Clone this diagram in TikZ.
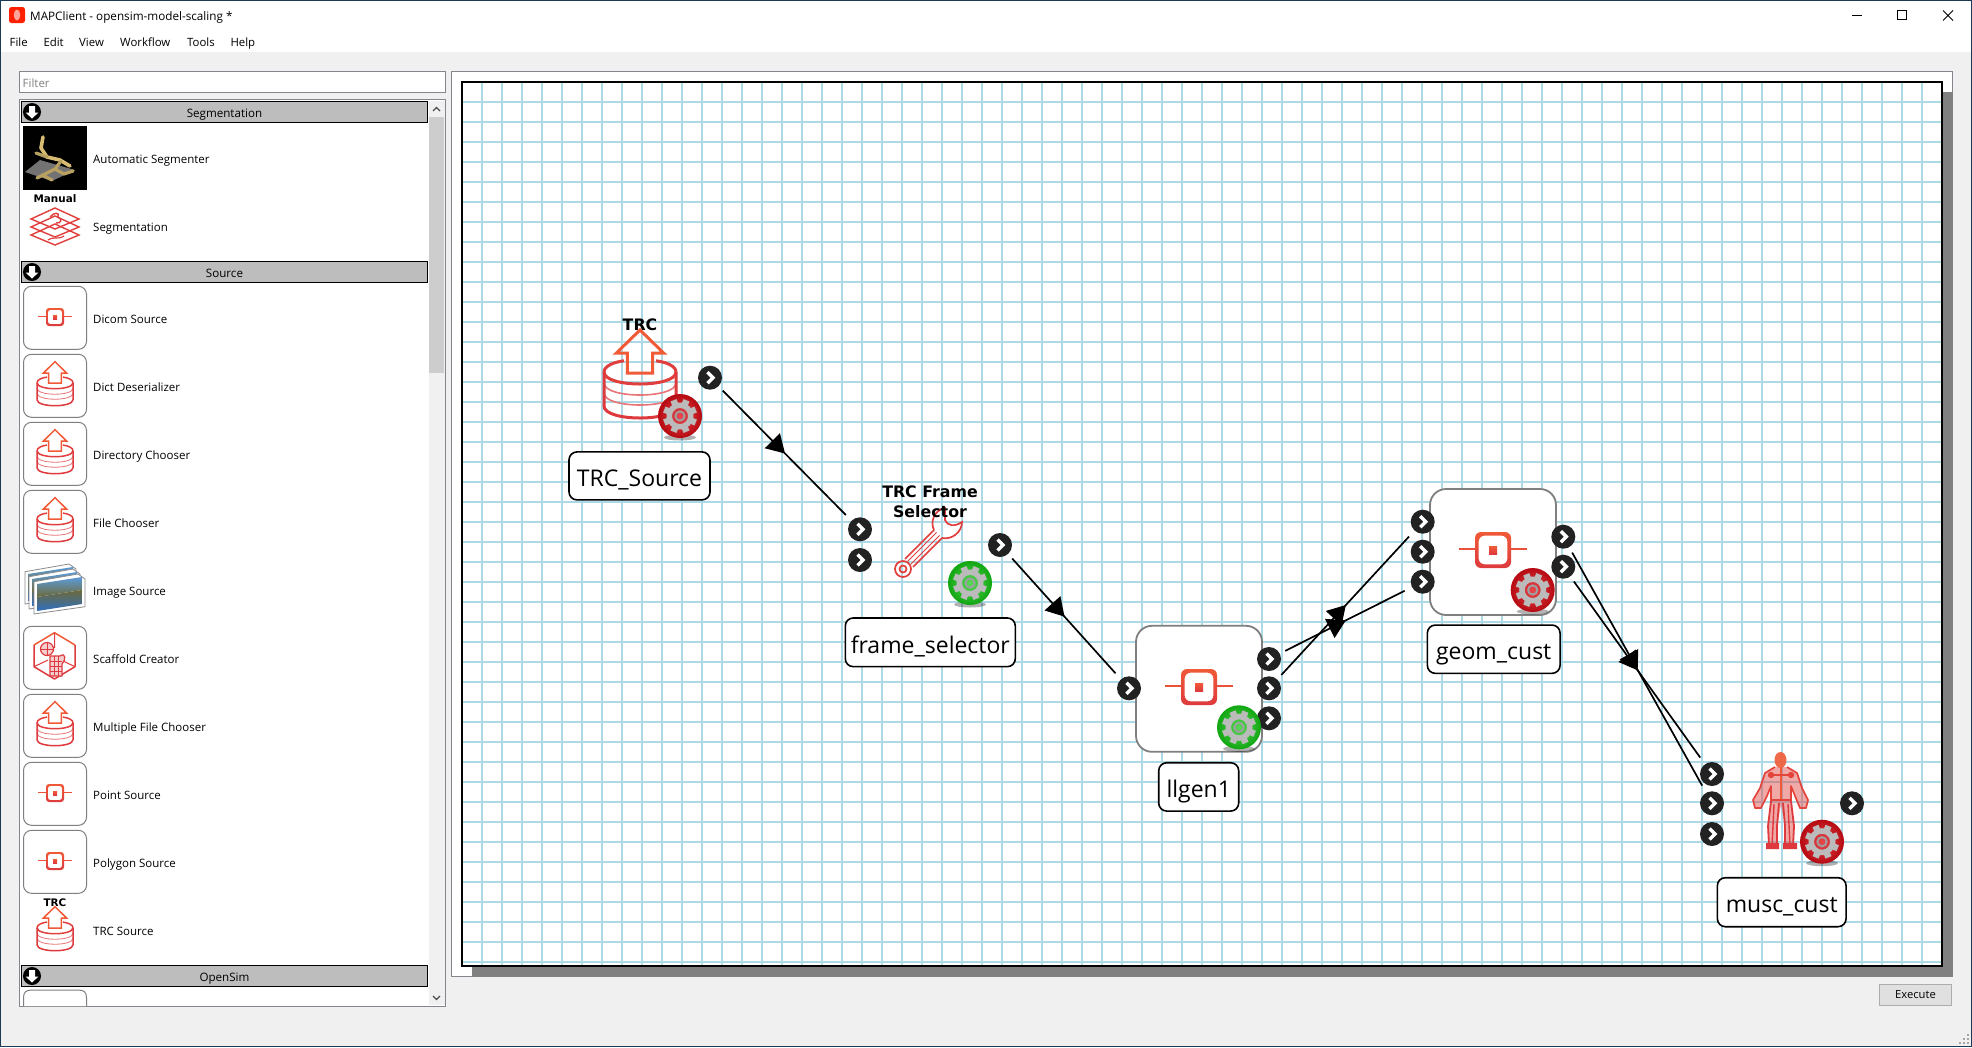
\documentclass[tikz,border=0pt]{standalone}
\usepackage{fontspec}
\setmainfont{Open Sans}
\newfontfamily\iconfont{DejaVu Sans}
\usetikzlibrary{arrows.meta,decorations.markings}
\definecolor{uibg}{HTML}{F0F0F0}
\definecolor{winedge}{HTML}{1B3A56}
\definecolor{uiline}{HTML}{85858D}
\definecolor{headgray}{HTML}{BDBDBD}
\definecolor{thumb}{HTML}{CDCDCD}
\definecolor{gridblue}{HTML}{ADD8E6}
\definecolor{shadowgray}{HTML}{808080}
\definecolor{iconorange}{HTML}{F05A36}
\definecolor{iconred}{HTML}{DE3A3E}
\definecolor{gearg}{HTML}{BBBBBB}
\definecolor{portblack}{HTML}{222222}
\definecolor{boxedge}{HTML}{7F7F7F}
\definecolor{bonetan}{HTML}{D8BC72}
\definecolor{ballredin}{HTML}{E8484C}
\definecolor{ballredout}{HTML}{B80C14}
\definecolor{ballgreenin}{HTML}{5AD85A}
\definecolor{ballgreenout}{HTML}{14A814}
\definecolor{photosky}{HTML}{5C9BD8}
\definecolor{photoland}{HTML}{6E6A38}
\definecolor{photowater}{HTML}{2F6FC0}
\tikzset{
  menuitem/.style={anchor=base west,inner sep=0pt,font=\fontsize{11.4}{13}\selectfont},
  titletext/.style={anchor=base west,inner sep=0pt,font=\fontsize{11.7}{13}\selectfont},
  listlabel/.style={anchor=base west,inner sep=0pt,font=\fontsize{11.5}{13}\selectfont},
  secthead/.style={draw=black,line width=1.2pt,fill=headgray,minimum width=406pt,minimum height=21pt,inner sep=0pt,text height=11pt,text depth=0pt,font=\fontsize{11.6}{13}\selectfont},
  iconbox/.style={draw=boxedge,line width=1pt,fill=white,rounded corners=8pt},
  iconword/.style={inner sep=0pt,align=center,font=\iconfont\bfseries\fontsize{10.4}{12}\selectfont},
  canvasword/.style={inner sep=0pt,align=center,text=black,font=\iconfont\bfseries\fontsize{15.8}{20}\selectfont},
  canvaslabel/.style={draw=black,line width=1.6pt,fill=white,rounded corners=8pt,inner sep=0pt,text height=21.5pt,text depth=0pt,font=\fontsize{23}{25}\selectfont},
  unitbox/.style={draw=boxedge,line width=1.8pt,fill=white,rounded corners=16pt,minimum width=126pt,minimum height=126pt,inner sep=0pt},
  port/.style={circle,fill=portblack,minimum size=24pt,inner sep=0pt,path picture={\draw[white,line width=3.4pt] (-2.5,-5.5)--(3,0)--(-2.5,5.5);}},
  conn/.style={draw=black,line width=1.7pt,shorten <=6pt,shorten >=8pt,postaction={decorate},decoration={markings,mark=at position .5 with {\arrow{Triangle[length=18pt,width=21pt]}}}},
  gridline/.style={draw=gridblue,line width=2pt},
  uiframe/.style={draw=uiline,line width=1pt,fill=white},
}
% source icon: rounded square with a dot and two leads
\newcommand\srcicon[3]{\begin{scope}[shift={(#1,#2)},scale=#3]
  \draw[iconorange!70!iconred,line width=#3*0.9pt] (-17,-0.5)--(-8.5,-0.5) (8.5,-0.5)--(17,-0.5);
  \shade[top color=iconorange,bottom color=iconred,even odd rule,rounded corners=#3*3pt] (-9,-9) rectangle (9,9) (-7.2,-7.2) rectangle (7.2,7.2);
  \shade[top color=iconorange,bottom color=iconred] (-2,-2) rectangle (2,2);
\end{scope}}
% database with an upward arrow
\newcommand\dbicon[3]{\begin{scope}[shift={(#1,#2)},scale=#3,line width=#3*1.5pt,line join=miter]
  \draw[iconorange] (-6.3,-3.5)--(-6.3,-13.5)--(-11.8,-13.5)--(0,-25)--(11.8,-13.5)--(6.3,-13.5)--(6.3,-3.5)--cycle;
  \draw[iconred!85!iconorange] (-18,-4) .. controls (-18,-7) and (-13,-9) .. (-8,-9.6);
  \draw[iconred!85!iconorange] (18,-4) .. controls (18,-7) and (13,-9) .. (8,-9.6);
  \draw[iconred!85!iconorange] (-18,-4) .. controls (-18,4) and (18,4) .. (18,-4);
  \draw[iconred!70,line width=#3*0.8pt] (-18,1.5) .. controls (-18,9.5) and (18,9.5) .. (18,1.5);
  \draw[iconred!70,line width=#3*0.8pt] (-18,6.5) .. controls (-18,14.5) and (18,14.5) .. (18,6.5);
  \draw[iconred] (-18,-4)--(-18,13) .. controls (-18,21) and (18,21) .. (18,13)--(18,-4);
\end{scope}}
% status ball with a gear
\newcommand\gearball[4]{\begin{scope}[shift={(#1,#2)}]
  \fill[black,opacity=.3] (0,21.5) ellipse[x radius=16,y radius=3];
  \fill[#4] (0,0) circle[radius=22];
  \shade[inner color=#3,outer color=#4] (0,0) circle[radius=21];
  \foreach \a in {0,45,...,315}{\fill[gearg,rotate=\a+22.5] (-3.2,-17) rectangle (3.2,-11);}
  \fill[gearg,even odd rule] (0,0) circle[radius=13.5] (0,0) circle[radius=8];
  \draw[gearg!85!black,line width=2pt] (0,0) circle[radius=4.6];
\end{scope}}
\begin{document}
\begin{tikzpicture}[x=1pt,y=-1pt]
\useasboundingbox (0,0) rectangle (1972,1047);
% window
\fill[uibg] (0,0) rectangle (1972,1047);
\fill[white] (0,0) rectangle (1972,52);
\draw[winedge,line width=1.4pt] (0.5,0.5) rectangle (1971.5,1046.5);
\fill[red!75!orange,rounded corners=2.5pt] (9,7) rectangle (25,23);
\fill[white,opacity=.6] (17,15) ellipse[x radius=3.2,y radius=5.5];
\node[titletext] (title) at (30,20) {MAPClient - opensim-model-scaling *};
\draw[black,line width=1pt] (1852.3,15.3)--(1862,15.3);
\draw[black,line width=1pt] (1897.3,10) rectangle (1906.7,19.7);
\draw[black,line width=.9pt] (1943,10.5)--(1953,20.5) (1953,10.5)--(1943,20.5);
\node[menuitem] (mfile) at (9.5,46) {File};
\node[menuitem] (medit) at (43.3,46) {Edit};
\node[menuitem] (mview) at (79,46) {View};
\node[menuitem] (mwork) at (120,46) {Workflow};
\node[menuitem] (mtools) at (187,46) {Tools};
\node[menuitem] (mhelp) at (230.3,46) {Help};
% filter
\path[uiframe] (19.5,71.5) rectangle (445.5,92.5);
\node[listlabel,text=gray] (filter) at (22.5,87) {Filter};
% list
\path[uiframe] (19.5,99.5) rectangle (445.5,1006);
\fill[uibg] (429,100.5) rectangle (445,1005);
\fill[thumb] (429,117) rectangle (444,372.7);
\draw[black!70,line width=1.2pt] (433,111)--(436.5,107.5)--(440,111);
\draw[black!70,line width=1.2pt] (433,996)--(436.5,999.5)--(440,996);
% section heads
\node[secthead] (segm) at (224.5,112.2) {Segmentation};
\node[secthead] (srch) at (224.5,272.2) {Source};
\node[secthead] (opsm) at (224.5,976.2) {OpenSim};
\foreach \yy in {112,272,976}{
  \fill[black] (32,\yy) circle[radius=9];
  \fill[white] (32,\yy+6.5)--(25.5,\yy+0.5)--(29,\yy+0.5)--(29,\yy-6)--(35,\yy-6)--(35,\yy+0.5)--(38.5,\yy+0.5)--cycle;
}
% automatic segmenter thumbnail
\fill[black] (23,126) rectangle (87,190);
\fill[black!55] (25,172)--(40,160)--(75,170)--(52,181)--cycle;
\draw[bonetan,line width=3.6pt,line cap=round,line join=round] (43,137)--(41,148)--(47,157)--(60,160)--(70,166);
\draw[bonetan!85!black,line width=3.2pt,line cap=round,line join=round] (37,178)--(47,173)--(55,169)--(61,161) (55,169)--(64,174)--(73,171) (36,153)--(47,157) (44,176)--(52,180);
% manual segmentation
\node[iconword] (manual) at (55,199) {Manual};
\foreach \yy in {235,227,219}{
  \draw[iconred!85!iconorange,line width=1.4pt] (31,\yy)--(55,\yy-11)--(79,\yy)--(55,\yy+10)--cycle;
}
\draw[iconred!85!iconorange,line width=1.4pt] (50,217) .. controls (54,212) and (60,212) .. (58,217) .. controls (62,218) and (62,224) .. (56,223);
\draw[iconred!85!iconorange,line width=1.2pt] (48,240) .. controls (54,236) and (58,240) .. (64,236);
% list icon boxes
\foreach \yy in {286.3,354.3,422.3,490.3,626.3,694.3,762.3,830.3}{
  \path[iconbox] (23.5,\yy) rectangle (86.5,\yy+63);
}
\draw[boxedge,line width=1pt,fill=white] (23.5,1006)--(23.5,998) .. controls (23.5,992) and (26,990) .. (32,990)--(78,990) .. controls (84,990) and (86.5,992) .. (86.5,998)--(86.5,1006);
\srcicon{55}{317}{1}
\dbicon{55}{386.7}{1}
\dbicon{55}{454.7}{1}
\dbicon{55}{522.7}{1}
\dbicon{55}{726.7}{1}
\srcicon{55}{793}{1}
\srcicon{55}{861}{1}
\dbicon{55}{931.7}{1}
\node[iconword] (trclist) at (55,903) {TRC};
% image source icon
\foreach \dx/\dy in {-9/-10,-5/-5,0/0}{
  \begin{scope}[shift={(\dx,\dy)}]
  \path[draw=black!45,line width=.8pt,fill=white] (34,581.7)--(78,574)--(85,579)--(85,606.7)--(34,614)--cycle;
  \shade[top color=photosky,bottom color=photoland] (37,584)--(82,577)--(82,590)--(37,597)--cycle;
  \shade[top color=photoland,bottom color=photowater] (37,597)--(82,590)--(82,604)--(37,611)--cycle;
  \end{scope}
}
% scaffold icon
\draw[iconorange,line width=1.5pt,line join=round] (34,645)--(54.5,632.7)--(75,645);
\draw[iconred,line width=1.5pt,line join=round] (75,645)--(75,666.7)--(54.5,679)--(34,666.7)--(34,645);
\draw[iconred,line width=1pt] (54.5,632.7)--(54.5,648) (34,666.7)--(48,660) (75,666.7)--(61,660);
\draw[iconred,line width=1.2pt,fill=iconred!25] (47,649) circle[radius=6.5];
\draw[iconred,line width=1.2pt,fill=iconred!25] (50,656)--(60,656) .. controls (66,652) and (66,660) .. (62,664)--(62,676)--(50,676)--cycle;
\draw[iconred,line width=.6pt] (50,661)--(62,661) (50,666)--(62,666) (50,671)--(62,671) (54,656)--(54,676) (58,656)--(58,676) (41,649)--(53,649) (47,643)--(47,655);
% list labels
\node[listlabel] (la1) at (93,163.3) {Automatic Segmenter};
\node[listlabel] (la2) at (93,231) {Segmentation};
\node[listlabel] (la3) at (93,323) {Dicom Source};
\node[listlabel] (la4) at (93,391) {Dict Deserializer};
\node[listlabel] (la5) at (93,459) {Directory Chooser};
\node[listlabel] (la6) at (93,527) {File Chooser};
\node[listlabel] (la7) at (93,595) {Image Source};
\node[listlabel] (la8) at (93,663) {Scaffold Creator};
\node[listlabel] (la9) at (93,731) {Multiple File Chooser};
\node[listlabel] (la10) at (93,799) {Point Source};
\node[listlabel] (la11) at (93,867) {Polygon Source};
\node[listlabel] (la12) at (93,935) {TRC Source};
% graphics panel
\path[uiframe] (451.7,71.7) rectangle (1952,976);
\fill[shadowgray] (472,92) rectangle (1953,977);
\fill[white] (461.7,82) rectangle (1942,965.7);
\foreach \i in {0,...,73}{\draw[gridline] (481.7+20*\i,82)--(481.7+20*\i,965.7);}
\foreach \i in {0,...,43}{\draw[gridline] (461.7,101.7+20*\i)--(1942,101.7+20*\i);}
\draw[black,line width=2.4pt] (461.7,82) rectangle (1942,965.7);
% execute
\node[draw=black!32,line width=1pt,fill=black!12,minimum width=72.4pt,minimum height=21.4pt,inner sep=0pt,font=\fontsize{11.2}{13}\selectfont] (exec) at (1915.5,995) {Execute};
\foreach \px/\py in {1968/1043,1964/1043,1960/1043,1968/1039,1964/1039,1968/1035}{\fill[black!35] (\px-1,\py-1) rectangle (\px+1,\py+1);}
% workflow: boxes
\node[unitbox] (llgenbox) at (1199,688.8) {};
\node[unitbox] (geombox) at (1493,552) {};
% TRC_Source
\dbicon{640}{380}{2}
\node[canvasword] (trcword) at (640,325) {TRC};
\node[port] (trcout) at (710,377.7) {};
\node[canvaslabel,minimum width=141pt,minimum height=48pt] (trclabel) at (639.5,475.9) {TRC\_Source};
% frame selector
\begin{scope}[iconred!85!iconorange,line width=1.7pt]
\draw (903,569) circle[radius=8] (903,569) circle[radius=3.5];
\draw (913,567)--(942,538) (905,559)--(934,530);
\draw[line width=.9pt] (910.5,564.5)--(939.5,535.5) (907.5,561.5)--(936.5,532.5);
\draw (934,530) .. controls (930,522) and (934,510) .. (945,508)--(945,520) .. controls (947,526) and (955,527) .. (962,522) .. controls (962,532) and (952,540) .. (942,538);
\end{scope}
\node[canvasword] (frameword) at (930,501.5) {TRC Frame\\Selector};
\node[port] (framein1) at (860,529.3) {};
\node[port] (framein2) at (860,560) {};
\node[port] (frameout) at (1000,545) {};
\node[canvaslabel,minimum width=170pt,minimum height=48.7pt] (framelabel) at (930.3,642.3) {frame\_selector};
% llgen1
\srcicon{1199}{687}{2}
\node[port] (llgenin) at (1129,688.3) {};
\node[port] (llgenout1) at (1269,659) {};
\node[port] (llgenout2) at (1269,688.3) {};
\node[port] (llgenout3) at (1269,718.3) {};
\node[canvaslabel,minimum width=80pt,minimum height=48.3pt] (llgenlabel) at (1198.7,786.9) {llgen1};
% geom_cust
\srcicon{1493}{550}{2}
\node[port] (geomin1) at (1422.7,521.7) {};
\node[port] (geomin2) at (1422.7,551.7) {};
\node[port] (geomin3) at (1422.7,581.7) {};
\node[port] (geomout1) at (1563.3,536.7) {};
\node[port] (geomout2) at (1563.3,566.7) {};
\node[canvaslabel,minimum width=132.7pt,minimum height=48.3pt] (geomlabel) at (1493.7,649.2) {geom\_cust};
% musc_cust figure
\fill[iconred!80!iconorange,opacity=.45] (1775,767)--(1765,773)--(1760,788)--(1753,800)--(1755,808)--(1761,808)--(1767,796)--(1771,786)--(1771,801)--(1768,826)--(1769,846)--(1777,846)--(1777,826)--(1781,805)--(1785,826)--(1785,846)--(1793,846)--(1794,826)--(1791,801)--(1791,786)--(1795,796)--(1800,808)--(1806,808)--(1808,800)--(1802,788)--(1797,773)--(1787,767)--cycle;
\fill[iconorange,opacity=.9] (1780.5,760) ellipse[x radius=6,y radius=8];
\begin{scope}[iconred!70!iconorange,line width=1.7pt,line join=round]
\draw[iconorange] (1781,768)--(1781,800);
\draw (1775,767)--(1765,773)--(1760,788)--(1753,800)--(1755,808)--(1761,808)--(1767,796)--(1771,786)--(1771,801);
\draw (1787,767)--(1797,773)--(1802,788)--(1808,800)--(1806,808)--(1800,808)--(1795,796)--(1791,786)--(1791,801);
\draw[line width=2.6pt] (1768,775)--(1794,775);
\fill (1771,775) circle[radius=3.2] (1791,775) circle[radius=3.2];
\draw[line width=2.2pt] (1770,800)--(1792,800);
\end{scope}
\begin{scope}[iconred,line width=1.8pt,line join=round]
\draw (1771,801)--(1768,826)--(1769,846);
\draw (1779,803)--(1777,826)--(1777,846);
\draw (1791,801)--(1794,826)--(1793,846);
\draw (1783,803)--(1785,826)--(1785,846);
\draw[line width=1.4pt] (1774,804)--(1772,846) (1788,804)--(1790,846);
\fill (1766,843) rectangle (1779,849) (1783,843) rectangle (1797,849);
\end{scope}
\node[port] (muscin1) at (1712,774) {};
\node[port] (muscin2) at (1712,803.3) {};
\node[port] (muscin3) at (1712,834) {};
\node[port] (muscout) at (1852,803.3) {};
\node[canvaslabel,minimum width=128.7pt,minimum height=49pt] (musclabel) at (1781.7,902.2) {musc\_cust};
% status balls
\gearball{680}{416}{ballredin}{ballredout}
\gearball{970}{583}{ballgreenin}{ballgreenout}
\gearball{1239}{727.3}{ballgreenin}{ballgreenout}
\gearball{1532.7}{590}{ballredin}{ballredout}
\gearball{1822}{841.7}{ballredin}{ballredout}
% connectors
\draw[conn] (trcout)--(framein1);
\draw[conn] (frameout)--(llgenin);
\draw[conn] (llgenout1)--(geomin3);
\draw[conn] (llgenout2)--(geomin1);
\draw[conn] (geomout1)--(muscin2);
\draw[conn] (geomout2)--(muscin1);
\end{tikzpicture}
\end{document}
